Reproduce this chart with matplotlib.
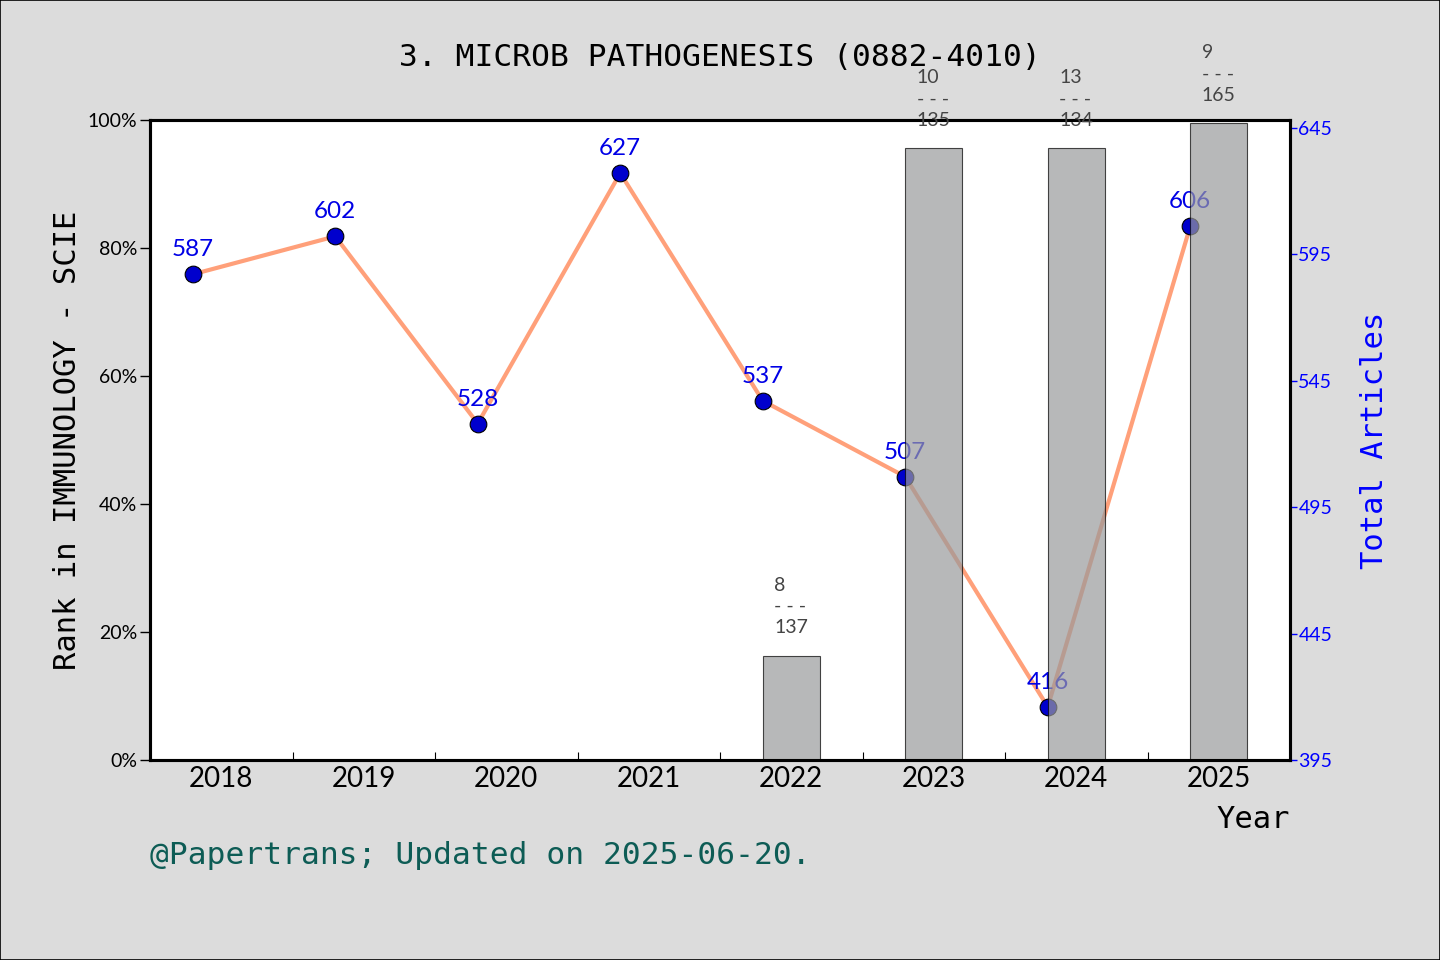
import matplotlib
matplotlib.use("Agg")
import matplotlib.pyplot as plt
from matplotlib.ticker import FuncFormatter, FixedLocator
from matplotlib.patches import Rectangle

years = ["2018", "2019", "2020", "2021", "2022", "2023", "2024", "2025"]
total_articles = [587, 602, 528, 627, 537, 507, 416, 606]
bar_years = ["2022", "2023", "2024", "2025"]
bar_rank = [8, 10, 13, 9]
bar_total = [137, 135, 134, 165]
bar_height = [0.163, 0.956, 0.956, 0.995]
pct_ticks = [0.0, 0.2, 0.4, 0.6, 0.8, 1.0]
art_ticks = [395, 445, 495, 545, 595, 645]

MONO = "DejaVu Sans Mono"
NUM = ["Lato", "DejaVu Sans"]

fig = plt.figure(figsize=(14.4, 9.6), dpi=100, facecolor="#dcdcdc")
fig.patches.append(Rectangle((0, 0), 1, 1, transform=fig.transFigure,
                             fill=False, edgecolor="black", linewidth=1.2))

ax2 = fig.add_axes([150/1440, 1-760/960, 1140/1440, 640/960])
ax = ax2.twinx()
ax2.yaxis.tick_right()
ax2.yaxis.set_label_position("right")
ax.yaxis.tick_left()
ax.yaxis.set_label_position("left")
ax.set_zorder(ax2.get_zorder() + 1)
ax.patch.set_visible(False)
ax2.set_facecolor("white")

xi = list(range(len(years)))
bx = [years.index(y) for y in bar_years]

# line (articles) on ax2
lx = [x - 0.2 for x in xi]
ax2.plot(lx, total_articles, color="#ffa07a", linewidth=3.0, zorder=2)
ax2.plot(lx, total_articles, linestyle="none", marker="o", markersize=12,
         markerfacecolor="#0000cd", markeredgecolor="black", markeredgewidth=0.8, zorder=3)
for x, v in zip(lx, total_articles):
    ax2.annotate(str(v), (x, v), xytext=(0, 10), textcoords="offset points",
                 ha="center", va="bottom", color="#0000e6", fontsize=17.5, family=NUM)
ax2.set_ylim(395, 648)
ax2.yaxis.set_major_locator(FixedLocator(art_ticks))
ax2.tick_params(axis="y", colors="blue", labelcolor="blue", labelsize=14,
                direction="out", length=5, width=1, pad=1)
for lab in ax2.get_yticklabels():
    lab.set_family(NUM)
ax2.set_ylabel("Total Articles", color="blue", fontsize=22, family=MONO, labelpad=20)

# bars on ax
ax.bar(bx, bar_height, width=0.4, color=(0.6, 0.605, 0.61), alpha=0.7,
       edgecolor="black", linewidth=0.8, zorder=2)
for x, h, r, t in zip(bx, bar_height, bar_rank, bar_total):
    ax.annotate(f"{r}\n- - -\n{t}", (x, h), xytext=(0, 14), textcoords="offset points",
                ha="center", va="bottom", multialignment="left", color="#444444",
                fontsize=14, family=NUM, linespacing=1.3, annotation_clip=False)
ax.set_ylim(0, 1)
ax.yaxis.set_major_locator(FixedLocator(pct_ticks))
ax.yaxis.set_major_formatter(FuncFormatter(lambda v, p: f"{int(round(v*100))}%"))
ax.tick_params(axis="y", labelsize=14, direction="out", length=7, width=1, pad=2)
for lab in ax.get_yticklabels():
    lab.set_family(NUM)
ax.set_ylabel("Rank in IMMUNOLOGY - SCIE", fontsize=22, family=MONO, labelpad=4)

for a in (ax, ax2):
    a.set_xlim(-0.5, len(years) - 0.5)
    for s in a.spines.values():
        s.set_linewidth(2.2)
        s.set_color("black")

ax2.set_xticks(xi)
ax2.set_xticklabels(years)
ax2.set_xticks([x + 0.5 for x in xi[:-1]], minor=True)
ax2.tick_params(axis="x", which="major", length=0, labelsize=20, pad=4)
ax2.tick_params(axis="x", which="minor", direction="in", length=6, width=0.8)
for lab in ax2.get_xticklabels():
    lab.set_family(NUM)
ax.tick_params(axis="x", which="both", bottom=False, labelbottom=False)
ax2.set_xlabel("Year", fontsize=22, family=MONO, loc="right", labelpad=10)

fig.text(0.5, 1 - 58/960, "3. MICROB PATHOGENESIS (0882-4010)", ha="center", va="center",
         fontsize=22.5, family=MONO, color="black")
fig.text(150/1440, 1 - 855/960, "@Papertrans; Updated on 2025-06-20.", ha="left", va="center",
         fontsize=22.5, family=MONO, color="#0d5c55")

fig.savefig("out.png", dpi=100, facecolor=fig.get_facecolor())
